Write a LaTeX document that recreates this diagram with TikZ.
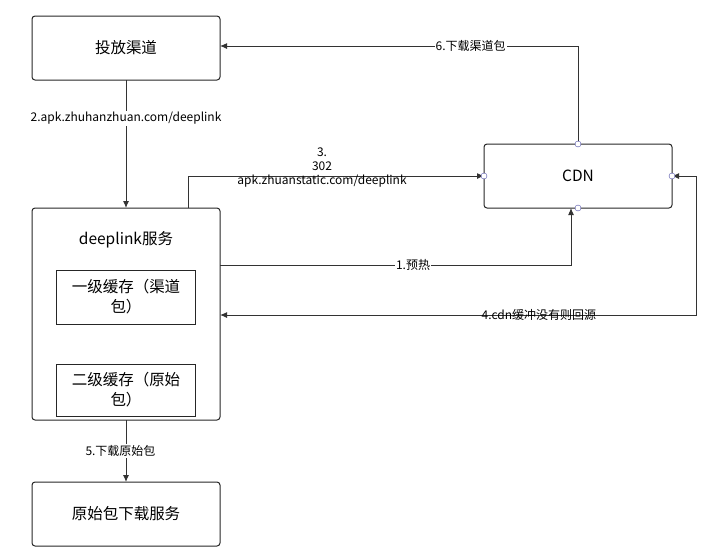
\documentclass[tikz,border=0pt]{standalone}
\usepackage{fontspec}
\setmainfont{Noto Sans CJK SC}
\usetikzlibrary{arrows.meta}
\begin{document}
\begin{tikzpicture}[x=1pt,y=-1pt,
 box/.style={draw=black!85,line width=1pt,rounded corners=3pt,inner sep=0},
 sq/.style={draw=black!85,line width=1pt,inner sep=0},
 conn/.style={draw=black!80,line width=1pt,-{Latex[length=7pt,width=6pt]}},
 lab/.style={font=\fontsize{12}{14}\selectfont,fill=white,inner sep=1pt,align=center},
 bt/.style={font=\fontsize{15.5}{20}\selectfont,align=center},
 dot/.style={circle,draw=blue!50!black!70,fill=white,inner sep=0,minimum size=6pt}]
\useasboundingbox (0,0) rectangle (716,558);
\path[box] (32,16) rectangle (220,80);
\node[bt] (a) at (126,48) {投放渠道};
\path[box] (484,144) rectangle (672,208);
\node[bt] (cdn) at (578,176) {CDN};
\path[box] (32,208) rectangle (220,420);
\node[bt] (dl) at (126,240) {deeplink服务};
\path[sq] (56,270) rectangle (195,324);
\node[bt] (c1) at (126,297) {一级缓存（渠道\\包）};
\path[sq] (56,364) rectangle (195,416);
\node[bt] (c2) at (126,390) {二级缓存（原始\\包）};
\path[box] (32,482) rectangle (220,546);
\node[bt] (o) at (126,514) {原始包下载服务};
\coordinate (ct) at (578,144); \coordinate (cl) at (484,176);
\coordinate (cr) at (672,176); \coordinate (cb) at (578,208);
\coordinate (at) at (220,46); \coordinate (ab) at (126,80);
\coordinate (dt) at (126,208); \coordinate (dt3) at (188,208);
\coordinate (dr1) at (220,265); \coordinate (dr4) at (220,315);
\coordinate (db) at (126,420); \coordinate (ot) at (126,482);
\draw[conn] (ct) -- (578,46) -- node[lab,pos=0.3]{6.下载渠道包} (at);
\draw[conn] (ab) -- node[lab,pos=0.3]{2.apk.zhuhanzhuan.com/deeplink} (dt);
\draw[conn] (dt3) -- (188,176) -- (cl);
\node[lab,fill=none] (l3) at (322,168) {3.\\302\\apk.zhuanstatic.com/deeplink};
\draw[conn] (dr1) -- node[lab,pos=0.55]{1.预热} (571,265) -- (571,208);
\draw[conn,{Latex[length=7pt,width=6pt]}-{Latex[length=7pt,width=6pt]}] (cr) -- (696,176) -- (696,315) -- node[lab,pos=0.33,fill=none]{4.cdn缓冲没有则回源} (dr4);
\draw[conn] (db) -- node[lab,pos=0.5,anchor=west,xshift=-42pt]{5.下载原始包} (ot);
\foreach \p in {ct,cl,cr,cb} \node[dot] at (\p) {};
\end{tikzpicture}
\end{document}
